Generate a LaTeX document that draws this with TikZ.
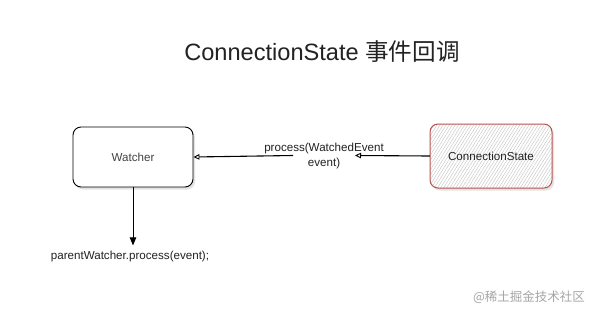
\documentclass[tikz,border=0pt]{standalone}
\usepackage{fontspec}
\setmainfont{Liberation Sans}
\newfontfamily\cjk{Noto Sans CJK SC}
\usetikzlibrary{arrows.meta,patterns.meta,shadows}
\definecolor{csred}{HTML}{B85450}
\definecolor{txt}{HTML}{222222}
\tikzset{
  boxshadow/.style={drop shadow={opacity=0.22,shadow xshift=2pt,shadow yshift=-2.5pt}},
  watcherbox/.style={draw=black,line width=0.9pt,fill=white,rounded corners=8pt,
    minimum width=120pt,minimum height=60pt,boxshadow,font=\fontsize{11.6}{14}\selectfont,text=txt!85},
  csbox/.style={fill=white,rounded corners=8pt,minimum width=122pt,minimum height=64pt,boxshadow,
    postaction={pattern={Lines[angle=58,distance=2.6pt,line width=0.45pt]},pattern color=black!22},
    postaction={draw=csred,line width=1pt},
    font=\fontsize{11.6}{14}\selectfont,text=txt},
  plain/.style={font=\fontsize{11.6}{14.5}\selectfont,text=txt,inner sep=1pt},
  openarrow/.style={draw=black,line width=1.1pt,-{Triangle[open,length=6pt,width=5.5pt,line width=0.9pt,fill=white]}},
  solidarrow/.style={draw=black,line width=0.9pt,-{Triangle[length=8pt,width=6.5pt]}}
}
\begin{document}
\begin{tikzpicture}[x=1pt,y=-1pt]
\useasboundingbox[fill=white] (0,0) rectangle (596,314);
\node[font=\fontsize{23.6}{28}\selectfont,text=txt] (title) at (322,52) {ConnectionState {\cjk 事件回调}};
\node[watcherbox] (w) at (133,157) {Watcher};
\node[csbox] (cs) at (491,156) {ConnectionState};
\node[plain,align=center] (lbl) at (324,156) {process(WatchedEvent\\event)};
\coordinate (m1) at (355,155.5);
\coordinate (m2) at (293,155.5);
\draw[openarrow] (cs.west) -- (m1);
\draw[openarrow] (m2) -- (w.east);
\node[plain] (pw) at (130,256) {parentWatcher.process(event);};
\draw[solidarrow,shorten >=4pt] (w.south) -- (w.south |- pw.north);
\node[font=\cjk\fontsize{12.5}{15}\selectfont,text=black!35] (wm) at (529,297) {@稀土掘金技术社区};
\end{tikzpicture}
\end{document}
